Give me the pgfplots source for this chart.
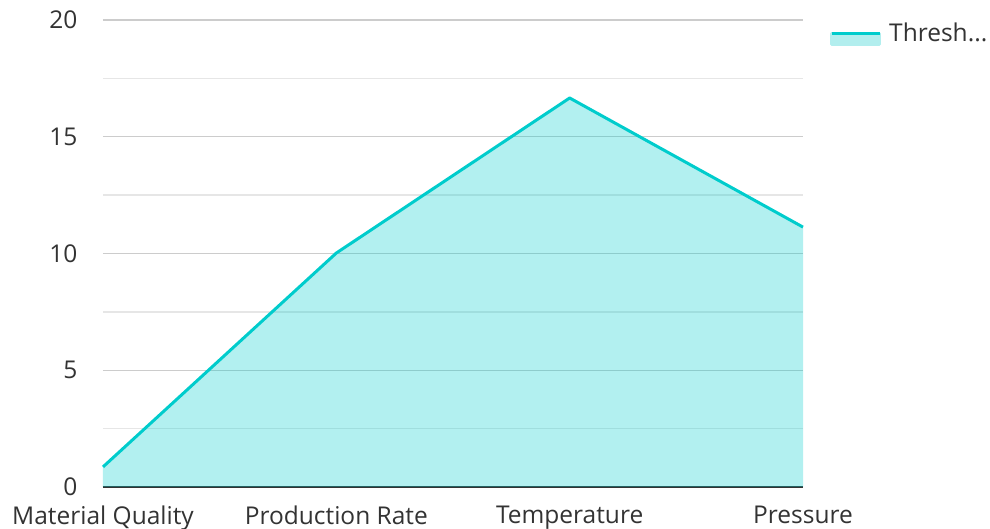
\documentclass[border=0pt]{standalone}
\usepackage{fontspec}
\setmainfont{Open Sans}
\usepackage{pgfplots}
\pgfplotsset{compat=1.18}
\definecolor{linec}{HTML}{00CCCC}
\definecolor{fillc}{HTML}{B2EEEE}
\definecolor{txt}{HTML}{333333}
\definecolor{majg}{HTML}{CCCCCC}
\definecolor{ming}{HTML}{E6E6E6}
\begin{document}
\begin{tikzpicture}[x=1pt,y=1pt]
\useasboundingbox (0,0) rectangle (990,529);
\begin{axis}[
  at={(103pt,42pt)}, anchor=south west,
  scale only axis, width=700pt, height=467pt,
  xmin=0, xmax=3, ymin=0, ymax=20,
  xtick={0,1,2,3},
  xticklabels={Material Quality, Production Rate, Temperature, Pressure},
  ytick={0,5,10,15,20},
  minor y tick num=1,
  ymajorgrids, yminorgrids,
  major grid style={majg, line width=1.4pt},
  minor grid style={ming, line width=1.4pt},
  axis x line*=bottom,
  axis y line*=left,
  y axis line style={draw=none},
  x axis line style={txt, line width=2pt, -},
  major tick length=0pt, minor tick length=0pt,
  tick label style={font=\fontsize{24.5}{27}\selectfont, text=txt},
  yticklabel style={xshift=-22pt},
  xticklabel style={yshift=-15pt},
  /pgf/number format/assume math mode=true,
  clip=false,
  legend style={at={(rel axis cs:1,1)}, anchor=north west, xshift=24pt, yshift=1pt, draw=none, fill=none, font=\fontsize{24.5}{27}\selectfont, text=txt},
  legend cell align=left,
]
\addplot[draw=none, fill=linec, fill opacity=0.3, forget plot] coordinates {(0,0.86) (1,10.02) (2,16.66) (3,11.13)} \closedcycle;
\addplot[linec, line width=3pt, line join=round,
  legend image code/.code={
    \fill[fillc] (0pt,-11pt) rectangle (48pt,0pt);
    \draw[linec, line width=3pt] (0pt,0pt) -- (48pt,0pt);
  }] coordinates {(0,0.86) (1,10.02) (2,16.66) (3,11.13)};
\addlegendentry{\hspace{6pt}Thresh...}
\end{axis}
\end{tikzpicture}
\end{document}
